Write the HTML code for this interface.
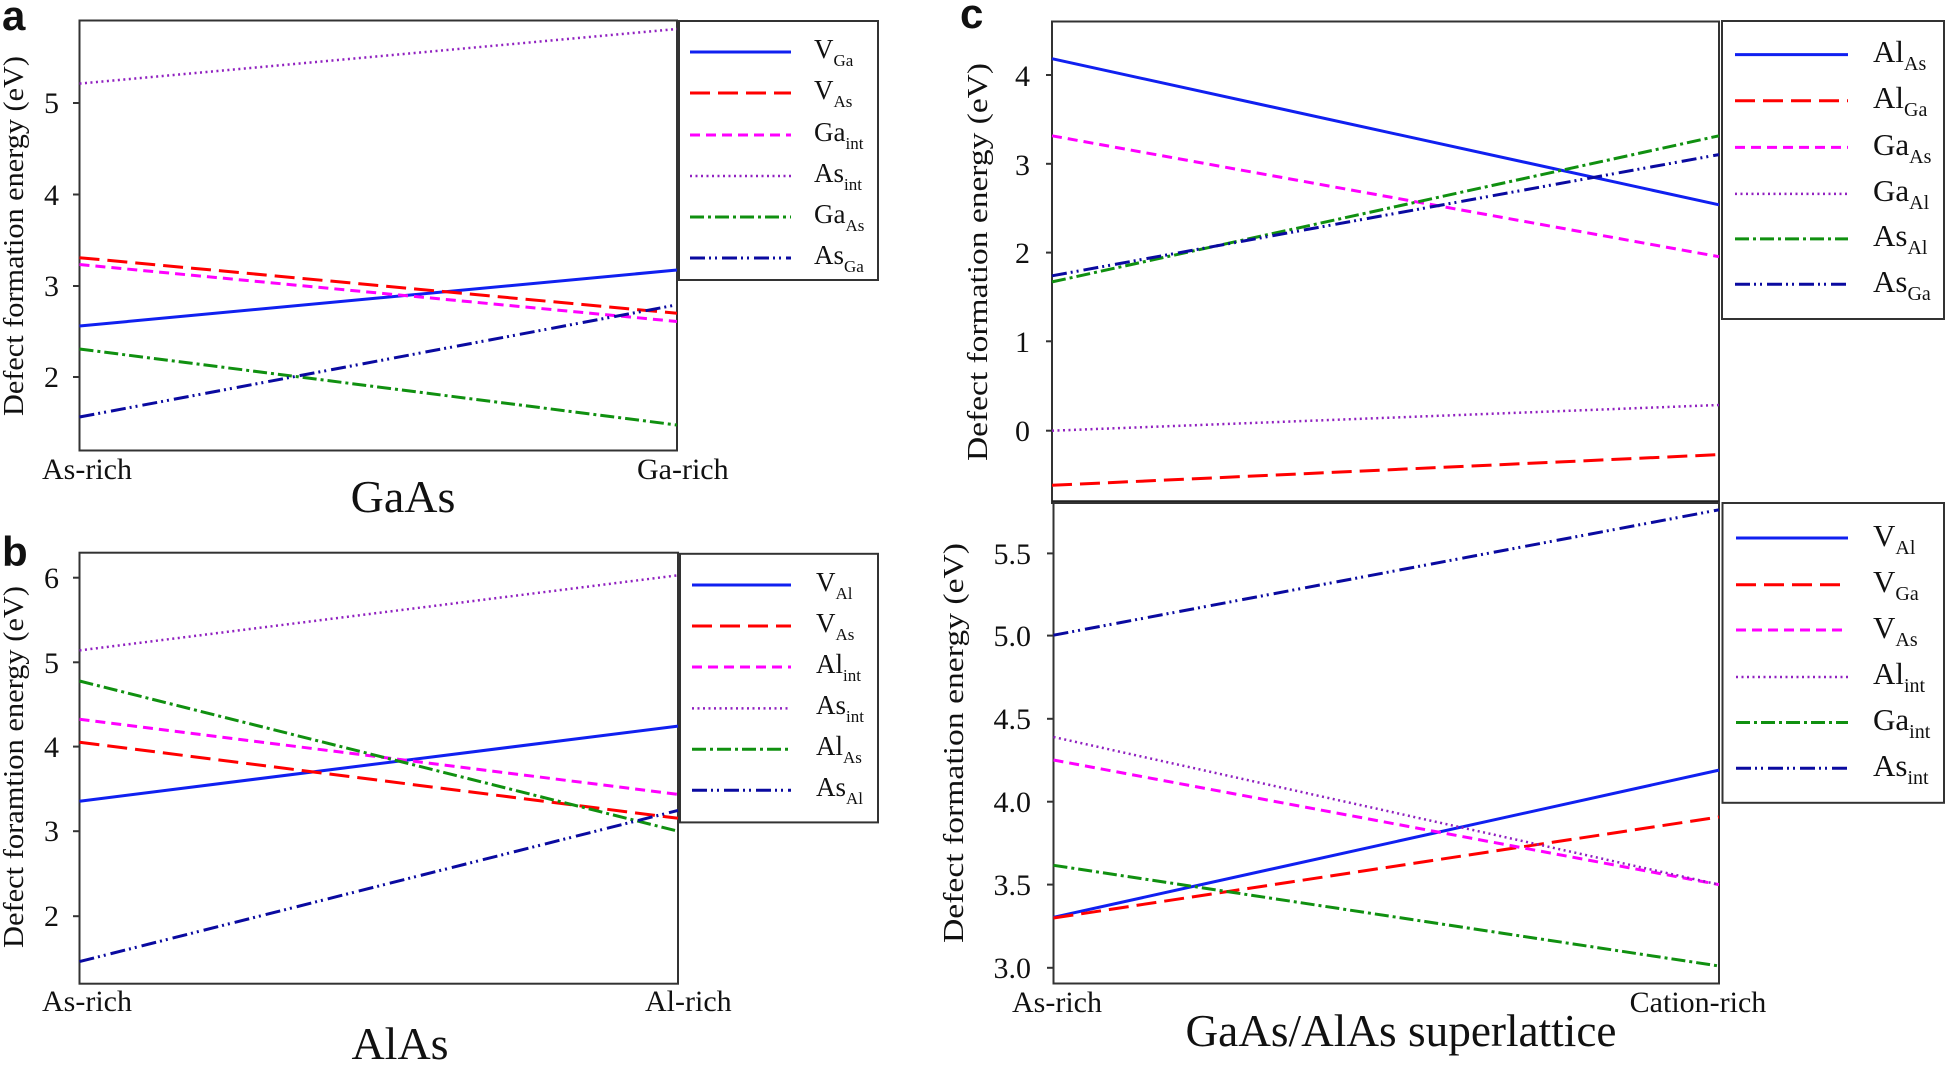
<!DOCTYPE html>
<html><head><meta charset="utf-8"><style>
html,body{margin:0;padding:0;background:#fff;}
svg{display:block;}
text{font-family:"Liberation Serif",serif;fill:#111;}
.lab{font-family:"Liberation Sans",sans-serif;font-weight:bold;font-size:42px;}
.tk{font-size:30px;}
.xl{font-size:30px;}
.tt{font-size:46px;}
.yl{font-size:29px;}
.lg{font-size:27px;}
.lgc{font-size:31px;}
.ax{fill:none;stroke:#333;stroke-width:2;}
.s{fill:none;stroke-width:3;}
.blue{stroke:#1020f0;}
.red{stroke:#f00;stroke-dasharray:20 8;}
.mag{stroke:#f0f;stroke-dasharray:10 6;}
.dot{stroke:#9020c0;stroke-width:2.5;stroke-dasharray:2 3.5;}
.grn{stroke:#109010;stroke-dasharray:14 4 3 4;}
.nav{stroke:#0a0aa0;stroke-dasharray:15 4 2 4 2 5;}
</style></head><body>
<svg width="1946" height="1070" viewBox="0 0 1946 1070" xmlns="http://www.w3.org/2000/svg">
<!-- Panel a -->
<text class="lab" x="2" y="30">a</text>
<rect class="ax" x="79.5" y="20.5" width="597.5" height="430"/>
<g class="ax"><line x1="73" y1="103" x2="79.5" y2="103"/><line x1="73" y1="194.5" x2="79.5" y2="194.5"/><line x1="73" y1="286" x2="79.5" y2="286"/><line x1="73" y1="377" x2="79.5" y2="377"/></g>
<g class="tk" text-anchor="end"><text x="59" y="113">5</text><text x="59" y="205">4</text><text x="59" y="296">3</text><text x="59" y="387">2</text></g>
<text class="yl" transform="translate(23,236) rotate(-90)" text-anchor="middle" textLength="360" lengthAdjust="spacingAndGlyphs">Defect formation energy (eV)</text>
<text class="xl" x="42" y="479">As-rich</text><text class="xl" x="637" y="479">Ga-rich</text>
<text class="tt" x="403" y="512" text-anchor="middle">GaAs</text>
<line class="s blue" x1="79.5" y1="326" x2="677" y2="270"/>
<line class="s red" x1="79.5" y1="257.7" x2="677" y2="313.3"/>
<line class="s mag" x1="79.5" y1="264.5" x2="677" y2="321.5"/>
<line class="s dot" x1="79.5" y1="83.6" x2="677" y2="29"/>
<line class="s grn" x1="79.5" y1="349" x2="677" y2="425"/>
<line class="s nav" x1="79.5" y1="417" x2="677" y2="304.8"/>
<rect class="ax" x="679" y="21" width="199" height="259" fill="#fff"/>
<line class="s blue" x1="690" y1="52" x2="791" y2="52"/>
<line class="s red" x1="690" y1="93" x2="791" y2="93"/>
<line class="s mag" x1="690" y1="135" x2="791" y2="135"/>
<line class="s dot" x1="690" y1="176" x2="791" y2="176"/>
<line class="s grn" x1="690" y1="217" x2="791" y2="217"/>
<line class="s nav" x1="690" y1="258" x2="791" y2="258"/>
<g class="lg">
<text x="814" y="58">V<tspan font-size="17" dy="8">Ga</tspan></text>
<text x="814" y="99">V<tspan font-size="17" dy="8">As</tspan></text>
<text x="814" y="141">Ga<tspan font-size="17" dy="8">int</tspan></text>
<text x="814" y="182">As<tspan font-size="17" dy="8">int</tspan></text>
<text x="814" y="223">Ga<tspan font-size="17" dy="8">As</tspan></text>
<text x="814" y="264">As<tspan font-size="17" dy="8">Ga</tspan></text>
</g>

<!-- Panel b -->
<text class="lab" x="2" y="566">b</text>
<rect class="ax" x="79.5" y="552.7" width="598.5" height="431"/>
<g class="ax"><line x1="73" y1="577.7" x2="79.5" y2="577.7"/><line x1="73" y1="662.3" x2="79.5" y2="662.3"/><line x1="73" y1="746.6" x2="79.5" y2="746.6"/><line x1="73" y1="831.2" x2="79.5" y2="831.2"/><line x1="73" y1="916.2" x2="79.5" y2="916.2"/></g>
<g class="tk" text-anchor="end"><text x="59" y="588">6</text><text x="59" y="673">5</text><text x="59" y="757">4</text><text x="59" y="841">3</text><text x="59" y="926">2</text></g>
<text class="yl" transform="translate(23,767) rotate(-90)" text-anchor="middle" textLength="362" lengthAdjust="spacingAndGlyphs">Defect foramtion energy (eV)</text>
<text class="xl" x="42" y="1011">As-rich</text><text class="xl" x="645" y="1011">Al-rich</text>
<text class="tt" x="400" y="1059" text-anchor="middle">AlAs</text>
<line class="s blue" x1="79.5" y1="801.2" x2="678" y2="726.1"/>
<line class="s red" x1="79.5" y1="742.2" x2="678" y2="818.3"/>
<line class="s mag" x1="79.5" y1="719.3" x2="678" y2="794.4"/>
<line class="s dot" x1="79.5" y1="650.4" x2="678" y2="575.3"/>
<line class="s grn" x1="79.5" y1="681" x2="678" y2="831.2"/>
<line class="s nav" x1="79.5" y1="961.6" x2="678" y2="810.4"/>
<rect class="ax" x="680" y="553.8" width="198" height="268.6" fill="#fff"/>
<line class="s blue" x1="692" y1="585" x2="791" y2="585"/>
<line class="s red" x1="692" y1="626" x2="791" y2="626"/>
<line class="s mag" x1="692" y1="667" x2="791" y2="667"/>
<line class="s dot" x1="692" y1="708.4" x2="791" y2="708.4"/>
<line class="s grn" x1="692" y1="749.3" x2="791" y2="749.3"/>
<line class="s nav" x1="692" y1="790.3" x2="791" y2="790.3"/>
<g class="lg">
<text x="816" y="591">V<tspan font-size="17" dy="8">Al</tspan></text>
<text x="816" y="632">V<tspan font-size="17" dy="8">As</tspan></text>
<text x="816" y="673">Al<tspan font-size="17" dy="8">int</tspan></text>
<text x="816" y="714">As<tspan font-size="17" dy="8">int</tspan></text>
<text x="816" y="755">Al<tspan font-size="17" dy="8">As</tspan></text>
<text x="816" y="796">As<tspan font-size="17" dy="8">Al</tspan></text>
</g>

<!-- Panel c top -->
<text class="lab" x="960" y="28">c</text>
<rect class="ax" x="1052" y="21.5" width="667" height="481.5"/>
<line x1="1052" y1="502" x2="1719" y2="502" stroke="#222" stroke-width="3.5"/>
<g class="ax"><line x1="1046" y1="75" x2="1052" y2="75"/><line x1="1046" y1="163.8" x2="1052" y2="163.8"/><line x1="1046" y1="252.6" x2="1052" y2="252.6"/><line x1="1046" y1="341.3" x2="1052" y2="341.3"/><line x1="1046" y1="430.7" x2="1052" y2="430.7"/></g>
<g class="tk" text-anchor="end"><text x="1030" y="86">4</text><text x="1030" y="175">3</text><text x="1030" y="263">2</text><text x="1030" y="352">1</text><text x="1030" y="441">0</text></g>
<text class="yl" transform="translate(987,262) rotate(-90)" text-anchor="middle" textLength="398" lengthAdjust="spacingAndGlyphs">Defect formation energy (eV)</text>
<line class="s blue" x1="1052" y1="58.7" x2="1719" y2="204.8"/>
<line class="s red" x1="1052" y1="485.3" x2="1719" y2="454.6"/>
<line class="s mag" x1="1052" y1="135.8" x2="1719" y2="256.7"/>
<line class="s dot" x1="1052" y1="430.7" x2="1719" y2="405"/>
<line class="s grn" x1="1052" y1="281.9" x2="1719" y2="135.8"/>
<line class="s nav" x1="1052" y1="275.8" x2="1719" y2="154.6"/>
<rect class="ax" x="1722" y="21" width="222" height="298" fill="#fff"/>
<line class="s blue" x1="1735" y1="54.6" x2="1848" y2="54.6"/>
<line class="s red" x1="1735" y1="100.7" x2="1848" y2="100.7"/>
<line class="s mag" x1="1735" y1="147.4" x2="1848" y2="147.4"/>
<line class="s dot" x1="1735" y1="193.9" x2="1848" y2="193.9"/>
<line class="s grn" x1="1735" y1="238.9" x2="1848" y2="238.9"/>
<line class="s nav" x1="1735" y1="284.3" x2="1848" y2="284.3"/>
<g class="lgc">
<text x="1873" y="62">Al<tspan font-size="20" dy="8">As</tspan></text>
<text x="1873" y="108">Al<tspan font-size="20" dy="8">Ga</tspan></text>
<text x="1873" y="155">Ga<tspan font-size="20" dy="8">As</tspan></text>
<text x="1873" y="201">Ga<tspan font-size="20" dy="8">Al</tspan></text>
<text x="1873" y="246">As<tspan font-size="20" dy="8">Al</tspan></text>
<text x="1873" y="292">As<tspan font-size="20" dy="8">Ga</tspan></text>
</g>

<!-- Panel c bottom -->
<rect class="ax" x="1053.5" y="503" width="665.5" height="480.5"/>
<g class="ax"><line x1="1047" y1="553.4" x2="1053.5" y2="553.4"/><line x1="1047" y1="635.6" x2="1053.5" y2="635.6"/><line x1="1047" y1="718.8" x2="1053.5" y2="718.8"/><line x1="1047" y1="801.7" x2="1053.5" y2="801.7"/><line x1="1047" y1="884.6" x2="1053.5" y2="884.6"/><line x1="1047" y1="967.8" x2="1053.5" y2="967.8"/></g>
<g class="tk" text-anchor="end"><text x="1031" y="564">5.5</text><text x="1031" y="646">5.0</text><text x="1031" y="729">4.5</text><text x="1031" y="812">4.0</text><text x="1031" y="895">3.5</text><text x="1031" y="978">3.0</text></g>
<text class="yl" transform="translate(963,743) rotate(-90)" text-anchor="middle" textLength="400" lengthAdjust="spacingAndGlyphs">Defect formation energy (eV)</text>
<text class="xl" x="1012" y="1012">As-rich</text><text class="xl" x="1698" y="1012" text-anchor="middle">Cation-rich</text>
<text class="tt" x="1401" y="1046" text-anchor="middle" textLength="431" lengthAdjust="spacingAndGlyphs">GaAs/AlAs superlattice</text>
<line class="s blue" x1="1053.5" y1="917.3" x2="1719" y2="770.1"/>
<line class="s red" x1="1053.5" y1="918" x2="1719" y2="817"/>
<line class="s mag" x1="1053.5" y1="760" x2="1719" y2="884.6"/>
<line class="s dot" x1="1053.5" y1="737" x2="1719" y2="884.6"/>
<line class="s grn" x1="1053.5" y1="865.3" x2="1719" y2="966"/>
<line class="s nav" x1="1053.5" y1="635.2" x2="1719" y2="509.8"/>
<rect class="ax" x="1722.5" y="503" width="221.5" height="299.8" fill="#fff"/>
<line class="s blue" x1="1736" y1="538" x2="1848" y2="538"/>
<line class="s red" x1="1736" y1="584.7" x2="1848" y2="584.7"/>
<line class="s mag" x1="1736" y1="630" x2="1848" y2="630"/>
<line class="s dot" x1="1736" y1="677" x2="1848" y2="677"/>
<line class="s grn" x1="1736" y1="722.5" x2="1848" y2="722.5"/>
<line class="s nav" x1="1736" y1="768.3" x2="1848" y2="768.3"/>
<g class="lgc">
<text x="1873" y="546">V<tspan font-size="20" dy="8">Al</tspan></text>
<text x="1873" y="592">V<tspan font-size="20" dy="8">Ga</tspan></text>
<text x="1873" y="638">V<tspan font-size="20" dy="8">As</tspan></text>
<text x="1873" y="684">Al<tspan font-size="20" dy="8">int</tspan></text>
<text x="1873" y="730">Ga<tspan font-size="20" dy="8">int</tspan></text>
<text x="1873" y="776">As<tspan font-size="20" dy="8">int</tspan></text>
</g>
</svg>
</body></html>
